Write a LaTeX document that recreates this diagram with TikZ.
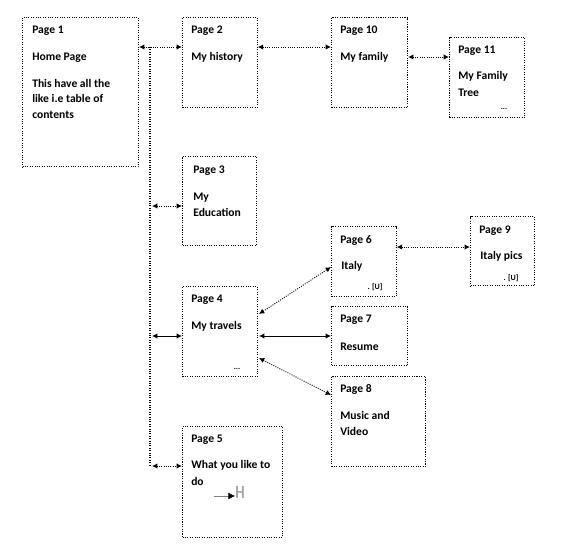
\documentclass[tikz,border=0pt]{standalone}
\usepackage{fontspec}
\setmainfont{Carlito}
\usetikzlibrary{
    arrows.meta
}
\tikzset{
    pagebox/.style={draw, densely dotted, line width=0.8pt, anchor=north west, inner sep=0pt},
    pagetext/.style={anchor=west, inner sep=0pt, yshift=-0.4pt, font=\bfseries\fontsize{8.7}{8.7}\selectfont},
    pagelink/.style={{Latex[length=4pt,width=4pt]}-{Latex[length=4pt,width=4pt]}, densely dotted, line width=0.7pt},
    pagelinksolid/.style={{Latex[length=4pt,width=4pt]}-{Latex[length=4pt,width=4pt]}, line width=0.7pt},
    pagemark/.style={anchor=center, inner sep=0pt, font=\bfseries\fontsize{6}{6}\selectfont}
}

\begin{document}
\begin{tikzpicture}[x=0.75pt,y=-0.75pt]

\useasboundingbox (0,0) rectangle (585,555);

% Pages
\node[pagebox, minimum width=87pt, minimum height=112pt] (page1) at (22,17) {};
\node[pagebox, minimum width=56pt, minimum height=67.5pt] (page2) at (182,17) {};
\node[pagebox, minimum width=55.5pt, minimum height=66.5pt] (page3) at (182,156) {};
\node[pagebox, minimum width=56pt, minimum height=67.5pt] (page4) at (182,286) {};
\node[pagebox, minimum width=75pt, minimum height=83pt] (page5) at (182,426) {};
\node[pagebox, minimum width=57pt, minimum height=67.5pt] (page10) at (331,17) {};
\node[pagebox, minimum width=56.5pt, minimum height=60pt] (page11) at (449,37) {};
\node[pagebox, minimum width=48.5pt, minimum height=52.5pt] (page6) at (331,226) {};
\node[pagebox, minimum width=48pt, minimum height=52pt] (page9) at (470,216) {};
\node[pagebox, minimum width=57pt, minimum height=44.5pt] (page7) at (331,306) {};
\node[pagebox, minimum width=70.5pt, minimum height=67.5pt] (page8) at (331,376) {};

% Page 1 text
\node[pagetext] (t1a) at (32,30) {Page 1};
\node[pagetext] (t1b) at (32,57) {Home Page};
\node[pagetext] (t1c) at (32,83) {This have all the};
\node[pagetext] (t1d) at (32,98) {like i.e table of};
\node[pagetext] (t1e) at (32,114) {contents};

% Other pages text
\node[pagetext] (t2a) at (191,30) {Page 2};
\node[pagetext] (t2b) at (191,57) {My history};
\node[pagetext] (t3a) at (193,170) {Page 3};
\node[pagetext] (t3b) at (193,197) {My};
\node[pagetext] (t3c) at (193,212) {Education};
\node[pagetext] (t4a) at (191,299) {Page 4};
\node[pagetext] (t4b) at (191,326) {My travels};
\node[pagetext] (t5a) at (191,439) {Page 5};
\node[pagetext] (t5b) at (191,465) {What you like to};
\node[pagetext] (t5c) at (191,481) {do};
\node[pagetext] (t10a) at (340,30) {Page 10};
\node[pagetext] (t10b) at (340,57) {My family};
\node[pagetext] (t11a) at (458,50) {Page 11};
\node[pagetext] (t11b) at (458,76) {My Family};
\node[pagetext] (t11c) at (458,92) {Tree};
\node[pagetext] (t6a) at (340,240) {Page 6};
\node[pagetext] (t6b) at (341,266) {Italy};
\node[pagetext] (t9a) at (479,230) {Page 9};
\node[pagetext] (t9b) at (480,256) {Italy pics};
\node[pagetext] (t7a) at (340,319) {Page 7};
\node[pagetext] (t7b) at (340,346) {Resume};
\node[pagetext] (t8a) at (340,389) {Page 8};
\node[pagetext] (t8b) at (340,415) {Music and};
\node[pagetext] (t8c) at (340,431) {Video};

% Small marks
\node[pagemark] (m11) at (504,109) {...};
\node[pagemark] (m4) at (237,369) {...};
\node[pagemark] (m6) at (375,287) {. [U]};
\node[pagemark] (m9) at (511,278) {. [U]};
\node[text=gray!70, inner sep=0pt, xscale=0.8, font=\bfseries\fontsize{14}{14}\selectfont] (cursor) at (240,492) {H};
\coordinate (cursorstart) at (214,496);
\draw[-{Latex[black,length=5pt,width=5pt]}, gray] (cursorstart) -- (cursor.west |- cursorstart);

% Trunk line
\coordinate (trunktop) at (150,47);
\coordinate (trunkbottom) at (150,466);
\draw[densely dotted, line width=0.8pt] (trunktop) -- (trunkbottom);

% Links from the trunk
\coordinate (a1) at (139,47);
\coordinate (a2) at (182,47);
\coordinate (a3l) at (152,206);
\coordinate (a3r) at (182,206);
\coordinate (a4l) at (152,336);
\coordinate (a4r) at (182,336);
\coordinate (a5l) at (152,466);
\coordinate (a5r) at (182,466);
\draw[pagelink] (a1) -- (a2);
\draw[pagelink] (a3l) -- (a3r);
\draw[pagelinksolid] (a4l) -- (a4r);
\draw[pagelink] (a5l) -- (a5r);

% Links between pages
\draw[pagelink] (page2.east |- a2) -- (page10.west |- a2);
\draw[pagelink] (page10.east |- 0,57) -- (page11.west |- 0,57);
\draw[pagelink] (page6.east |- 0,247) -- (page9.west |- 0,247);
\draw[pagelink] (259,314) -- (331,267);
\draw[pagelinksolid] (259,336) -- (page7.west |- 0,336);
\draw[pagelink] (259,358) -- (331,395);

\end{tikzpicture}
\end{document}
